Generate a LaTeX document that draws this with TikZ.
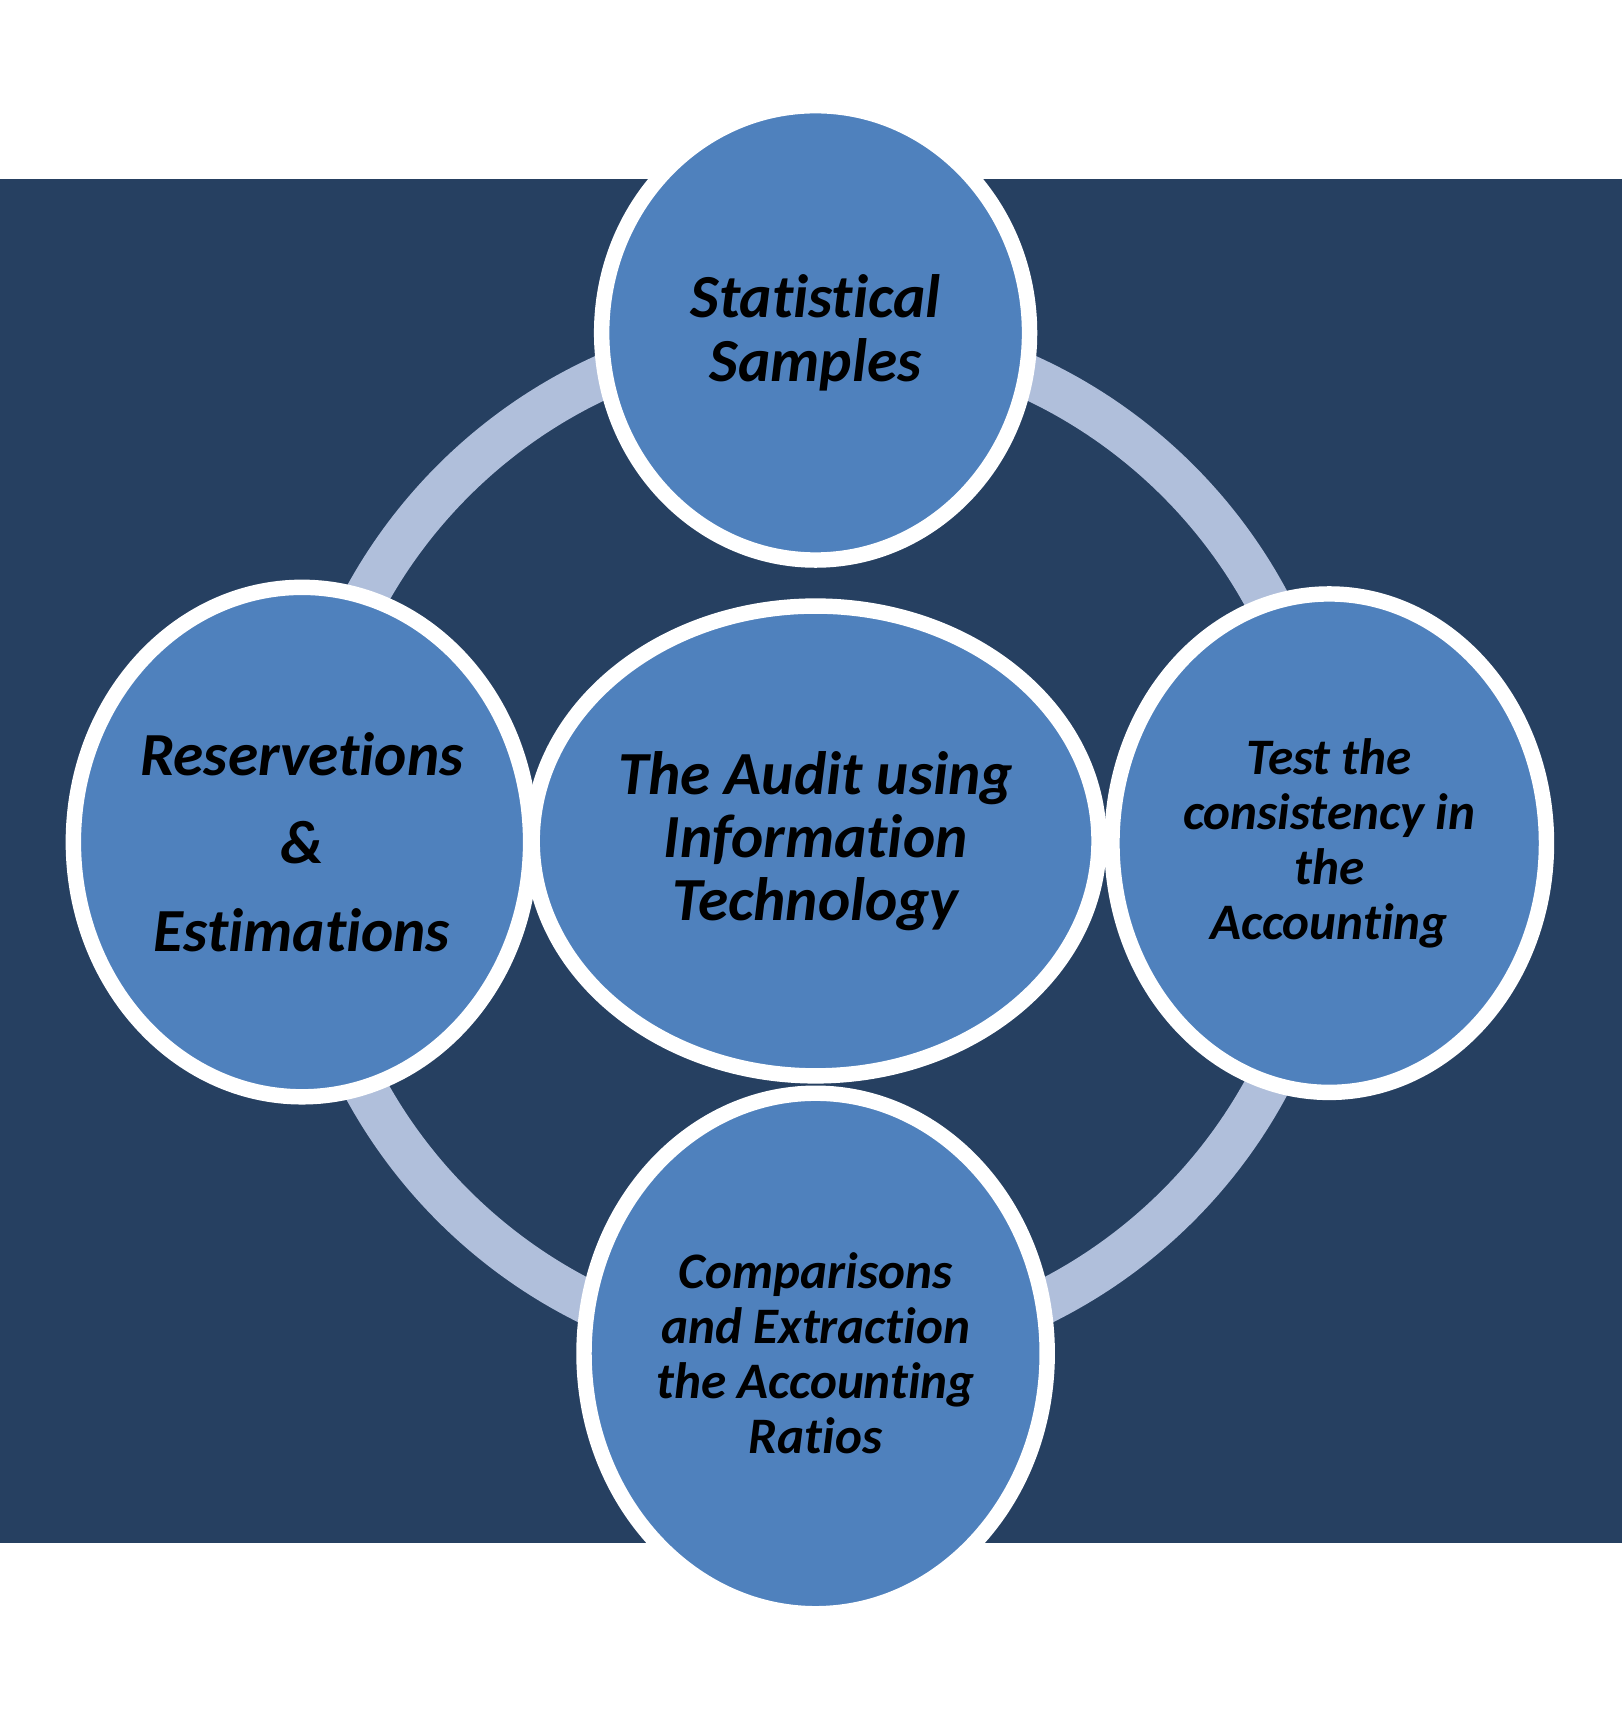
\documentclass[tikz,border=0pt]{standalone}
\usepackage{fontspec}
\setmainfont[RawFeature={-liga;-clig;-dlig}]{Carlito}
\usetikzlibrary{shapes.geometric}
\definecolor{bgdark}{HTML}{264061}
\definecolor{ringc}{HTML}{B0BFDB}
\definecolor{circ}{HTML}{4F81BD}
\tikzset{
 bub/.style={ellipse,fill=circ,draw=white,line width=1.4mm,align=center,inner sep=0pt},
 big/.style={font=\fontsize{15.8}{16.3}\selectfont\bfseries\itshape},
 small/.style={font=\fontsize{13.2}{14.2}\selectfont\bfseries\itshape}
}
\begin{document}
\begin{tikzpicture}[x=0.01cm,y=-0.01cm]
\useasboundingbox (0,0) rectangle (1472,1566);
\fill[bgdark] (0,162) rectangle (1472,1400);
\coordinate (c) at (740,765);
\draw[ringc,line width=0.4cm] (c) circle (465);
\node[bub,big,minimum width=3.88cm,minimum height=4.12cm] (top) at (740,302) {Statistical\\Samples};
\node[bub,minimum width=4.1cm,minimum height=4.62cm,font=\fontsize{15.8}{22.7}\selectfont\bfseries\itshape] (left) at (274,764) {Reservetions\\\&\\Estimations};
\node[bub,small,minimum width=3.94cm,minimum height=4.52cm] (right) at (1206,765) {Test the\\consistency in\\the\\Accounting};
\node[bub,small,minimum width=4.2cm,minimum height=4.72cm] (bottom) at (740,1228) {Comparisons\\and Extraction\\the Accounting\\Ratios};
\node[bub,big,minimum width=5.14cm,minimum height=4.26cm] (center) at (740,763) {The Audit using\\Information\\Technology};
\end{tikzpicture}
\end{document}
